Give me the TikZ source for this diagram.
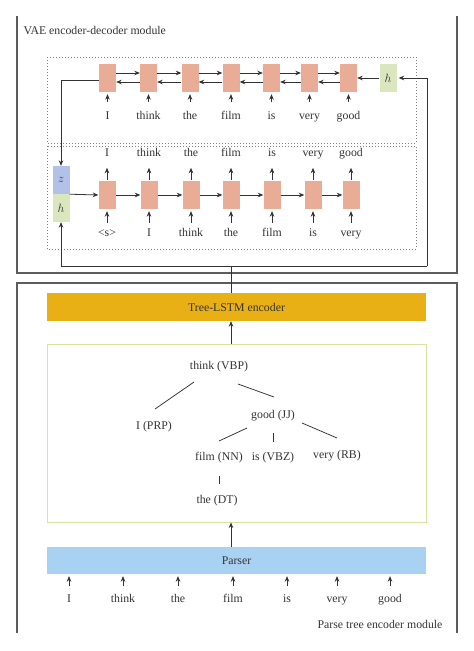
\documentclass[tikz,border=0pt]{standalone}
\usepackage{fontspec}
\setmainfont{Liberation Serif}
\usepackage{xcolor}
\usetikzlibrary{arrows.meta, positioning}

\definecolor{cellpink}{HTML}{E9AC96}
\definecolor{hgreen}{HTML}{D9E6BE}
\definecolor{zblue}{HTML}{B2C1E8}
\definecolor{treeorange}{HTML}{E8B015}
\definecolor{parserblue}{HTML}{A9D1F2}
\definecolor{treegreen}{HTML}{D6E4A0}
\definecolor{framegray}{HTML}{5C5C5C}
\definecolor{inkgray}{HTML}{333333}

\begin{document}
\begin{tikzpicture}[x=1pt, y=-1pt,
  every node/.style={text=inkgray, font=\fontsize{11.8}{14}\selectfont},
  cell/.style={rectangle, fill=cellpink, minimum width=17pt, minimum height=28pt, inner sep=0pt},
  vec/.style={rectangle, minimum width=17pt, minimum height=28pt, inner sep=0pt},
  word/.style={inner sep=0pt, text height=7.5pt, text depth=2pt},
  wide/.style={rectangle, minimum width=379pt, minimum height=28pt, inner sep=0pt},
  arrow/.style={-{Stealth[length=5.5pt, width=4.6pt]}, line width=0.8pt, inkgray},
  edge/.style={line width=0.75pt, inkgray},
  frame/.style={line width=1.1pt, framegray},
  dotbox/.style={line width=0.8pt, gray, dash pattern=on 0.8pt off 2.2pt}
]
\useasboundingbox (0,0) rectangle (474,651);

% module frames
\draw[frame] (17,16) |- (457,273) -- (457,16);
\draw[frame] (17,633) |- (457,283) -- (457,633);
\node[anchor=west] (vaetitle) at (20,30) {VAE encoder-decoder module};
\node[anchor=east] (ptetitle) at (446,624) {Parse tree encoder module};

% VAE encoder
\draw[dotbox] (47,57) rectangle (416,143);
\foreach \x [count=\i] in {107.5,148.5,190,231,271.5,309.5,348.5}
  \node[cell] (e\i) at (\x,78) {};
\node[vec, fill=hgreen] (eh) at (388,78) {$h$};
\foreach \i [evaluate=\i as \j using int(\i+1)] in {1,...,6} {
  \draw[arrow] ([yshift=5pt]e\i.east) -- ([yshift=5pt]e\j.west);
  \draw[arrow] ([yshift=-4pt]e\j.west) -- ([yshift=-4pt]e\i.east);
}
\draw[arrow] (eh) -- (e7);
\foreach \w [count=\i] in {I,think,the,film,is,very,good} {
  \node[word, below=20pt of e\i] (ew\i) {\w};
  \draw[arrow, shorten <=10pt, shorten >=2pt] (ew\i.north) -- (e\i.south);
}

% VAE decoder
\draw[dotbox] (47,146) rectangle (416,249);
\node[vec, fill=zblue] (dz) at (61,180) {$z$};
\node[vec, fill=hgreen] (dh) at (61,208) {$h$};
\foreach \x [count=\i] in {107,149,191,231,272,313,351}
  \node[cell] (d\i) at (\x,195) {};
\draw[arrow] (dz.south east) -- (d1.west);
\foreach \i [evaluate=\i as \j using int(\i+1)] in {1,...,6}
  \draw[arrow] (d\i) -- (d\j);
\foreach \w [count=\i] in {I,think,the,film,is,very,good} {
  \node[word, above=22pt of d\i] (dout\i) {\w};
  \draw[arrow, shorten <=1pt, shorten >=9pt] (d\i.north) -- (dout\i.south);
}
\foreach \w [count=\i] in {{<s>},I,think,the,film,is,very} {
  \node[word, below=20pt of d\i] (din\i) {\w};
  \draw[arrow, shorten <=6pt, shorten >=2pt] (din\i.north) -- (d\i.south);
}

% links between encoder, decoder and tree encoder
\coordinate (join) at (231,266);
\coordinate (rt) at (427,266);
\draw[arrow] ([yshift=-2pt]e1.west) -| (dz.north);
\draw[arrow, shorten >=2pt] (rt) |- (eh.east);
\draw[arrow] (rt) -| (dh.south);

% parse tree encoder
\node[wide, fill=treeorange] (tlstm) at (236.5,307) {Tree-LSTM encoder};
\node[rectangle, draw=treegreen, line width=1pt, minimum width=379pt, minimum height=178pt, inner sep=0pt] (tree) at (236.5,433) {};
\node[wide, minimum height=27pt, fill=parserblue] (parser) at (236.5,560.5) {Parser};
\draw[edge] (join) -- (join |- tlstm.north);
\draw[arrow] (join |- tree.north) -- (join |- tlstm.south);
\draw[arrow] (join |- parser.north) -- (join |- tree.south);

% dependency tree
\node (think) at (219,367) {think (VBP)};
\node (prp) at (154,427) {I (PRP)};
\node (good) at (273,416) {good (JJ)};
\node (film) at (219,458) {film (NN)};
\node (isv) at (273,458) {is (VBZ)};
\node (very) at (337,456) {very (RB)};
\node (the) at (217,501) {the (DT)};
\draw[edge] ([xshift=-25pt,yshift=-15pt]think.center) -- ([xshift=1pt,yshift=18pt]prp.center);
\draw[edge] ([xshift=19pt,yshift=-17pt]think.center) -- ([xshift=1pt,yshift=19pt]good.center);
\draw[edge] ([xshift=-26pt,yshift=-12pt]good.center) -- ([yshift=17pt]film.center);
\draw[edge] ([yshift=-17pt]good.center) -- ([yshift=16pt]isv.center);
\draw[edge] ([xshift=29pt,yshift=-7pt]good.center) -- ([yshift=18pt]very.center);
\draw[edge] ([yshift=-18pt]film.center) -- ([xshift=2pt,yshift=17pt]the.center);

% parser input
\foreach \x/\w [count=\i] in {69/I,123/think,178/the,233/film,287/is,337/very,390/good} {
  \node[word] (pw\i) at (\x,600) {\w};
  \draw[arrow, shorten <=9pt, shorten >=2pt] (pw\i.north) -- (pw\i.north |- parser.south);
}
\end{tikzpicture}
\end{document}
